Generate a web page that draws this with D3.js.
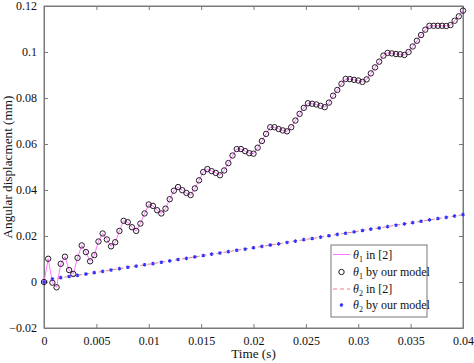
<!DOCTYPE html>
<html>
<head>
<meta charset="utf-8">
<script src="https://cdn.jsdelivr.net/npm/d3@7"></script>
<style>
	body { margin: 0; background: #fff; }
	svg { display: block; font-family: "Liberation Serif", "Times New Roman", serif; }
	.axis path, .axis line { stroke: #7a7a7a; }
	.axis text { fill: #111; font-size: 12px; font-family: "Liberation Serif", serif; }
	.axistitle { font-size: 13.2px; fill: #111; }
	.legtext { font-size: 12px; fill: #111; }
</style>
</head>
<body>
<svg class="chartArea"></svg>
<script>
// time step of the model output (s)
var dtModel = 0.0004;

// theta1, every 0.0004 s from 0 to 0.04
var theta1 = [
	0, 0.0101, -0.0003, -0.0023, 0.0079, 0.011, 0.0052, 0.0035, 0.0105, 0.0159,
	0.013, 0.009, 0.0117, 0.0176, 0.0211, 0.0185, 0.0155, 0.0173, 0.0222, 0.0266,
	0.026, 0.0238, 0.0222, 0.0254, 0.0298, 0.0337, 0.0331, 0.0312, 0.0298, 0.0319,
	0.036, 0.0397, 0.0413, 0.0399, 0.0387, 0.0378, 0.0407, 0.0442, 0.0478, 0.0491,
	0.0482, 0.0474, 0.0464, 0.0485, 0.0517, 0.055, 0.0578, 0.0578, 0.0569, 0.056,
	0.0558, 0.0584, 0.0613, 0.0644, 0.0673, 0.0673, 0.0665, 0.0659, 0.0655, 0.0673,
	0.0702, 0.0731, 0.0757, 0.0777, 0.0775, 0.0772, 0.0766, 0.076, 0.078, 0.081,
	0.0835, 0.0862, 0.0883, 0.0882, 0.0879, 0.0876, 0.087, 0.0881, 0.0907, 0.0933,
	0.0958, 0.0984, 0.0996, 0.0994, 0.0991, 0.099, 0.0987, 0.1, 0.1024, 0.1049,
	0.1074, 0.1097, 0.1114, 0.1114, 0.1114, 0.1114, 0.1113, 0.1117, 0.1136, 0.1155,
	0.118
];

// theta2, every 0.0008 s from 0 to 0.04
var dtTheta2 = 0.0008;
var theta2 = [
	0, 0.0013, 0.0019, 0.0024, 0.0029, 0.0035, 0.0041, 0.0046, 0.0052, 0.0058,
	0.0064, 0.0069, 0.0075, 0.008, 0.0086, 0.0092, 0.0098, 0.0103, 0.0109, 0.0115,
	0.0121, 0.0126, 0.0132, 0.0138, 0.0143, 0.0149, 0.0155, 0.0161, 0.0166, 0.0172,
	0.0178, 0.0184, 0.0189, 0.0195, 0.0201, 0.0207, 0.0212, 0.0218, 0.0224, 0.023,
	0.0235, 0.0241, 0.0247, 0.0253, 0.0258, 0.0264, 0.027, 0.0276, 0.0281, 0.0287,
	0.0293
];

var xTicks = [0, 0.005, 0.01, 0.015, 0.02, 0.025, 0.03, 0.035, 0.04];
var yTicks = [-0.02, 0, 0.02, 0.04, 0.06, 0.08, 0.1, 0.12];

var legendNames = ["in [2]", "by our model", "in [2]", "by our model"];
var legendSubs = ["1", "1", "2", "2"];

draw_angular("chartArea");

function draw_angular(areaID) {

	var data1 = theta1.map(function(v, i) { return {date: i * dtModel, value: v}; });
	var data2 = theta2.map(function(v, i) { return {date: i * dtTheta2, value: v}; });

	var margin = {top: 6, right: 11, bottom: 35, left: 44},
		width = 474 - margin.left - margin.right,
		height = 363 - margin.top - margin.bottom;

	var x = d3.scaleLinear()
		.domain([0, 0.04])
		.range([0, width]);

	var y = d3.scaleLinear()
		.domain([-0.02, 0.12])
		.range([height, 0]);

	var fmt = function(d) { return d3.format("~g")(d); };

	var chart = d3.select("." + areaID)
		.attr("width", width + margin.left + margin.right)
		.attr("height", height + margin.top + margin.bottom)
	  .append("g")
		.attr("transform", "translate(" + margin.left + "," + margin.top + ")");

	// White plot background and box
	chart.append("rect")
		.attr("width", width)
		.attr("height", height)
		.attr("fill", "#fff")
		.attr("stroke", "#7a7a7a");

	// Add the x axis (bottom + top ticks)
	chart.append("g")
		.attr("class", "x axis")
		.attr("transform", "translate(0," + height + ")")
		.call(d3.axisBottom(x).tickValues(xTicks).tickSizeInner(-4).tickSizeOuter(0).tickPadding(8).tickFormat(fmt));
	chart.append("g")
		.attr("class", "axis")
		.call(d3.axisTop(x).tickValues(xTicks).tickSizeInner(-4).tickSizeOuter(0).tickFormat(""));

	// Add the y axis (left + right ticks)
	chart.append("g")
		.attr("class", "y axis")
		.call(d3.axisLeft(y).tickValues(yTicks).tickSizeInner(-4).tickSizeOuter(0).tickPadding(7).tickFormat(fmt));
	chart.append("g")
		.attr("class", "axis")
		.attr("transform", "translate(" + width + ",0)")
		.call(d3.axisRight(y).tickValues(yTicks).tickSizeInner(-4).tickSizeOuter(0).tickFormat(""));

	// Axis titles
	chart.append("text")
		.attr("class", "axistitle")
		.attr("x", width / 2)
		.attr("y", height + 30)
		.attr("text-anchor", "middle")
		.text("Time (s)");
	chart.append("text")
		.attr("class", "axistitle")
		.attr("transform", "rotate(-90)")
		.attr("x", 0 - (height / 2))
		.attr("y", 0 - margin.left + 12)
		.attr("text-anchor", "middle")
		.text("Angular displacment (mm)");

	var valueline = d3.line()
		.x(function(d) { return x(d.date); })
		.y(function(d) { return y(d.value); });

	// theta1 in [2]
	chart.append("path")
		.datum(data1)
		.attr("fill", "none")
		.attr("stroke", "#ff66ff")
		.attr("stroke-width", 0.9)
		.attr("d", valueline);

	// theta2 in [2]
	chart.append("path")
		.datum(data2)
		.attr("fill", "none")
		.attr("stroke", "#e8707a")
		.attr("stroke-width", 0.9)
		.attr("stroke-dasharray", "4,3")
		.attr("d", valueline);

	// theta1 by our model
	chart.selectAll(".circ")
		.data(data1)
	  .enter().append("circle")
		.attr("class", "circ")
		.attr("cx", function(d) { return x(d.date); })
		.attr("cy", function(d) { return y(d.value); })
		.attr("r", 2.7)
		.attr("fill", "none")
		.attr("stroke", "#2a1a2a")
		.attr("stroke-width", 1);

	// theta2 by our model
	var star = d3.symbol().type(d3.symbolAsterisk).size(9);
	chart.selectAll(".star")
		.data(data2)
	  .enter().append("path")
		.attr("class", "star")
		.attr("transform", function(d) { return "translate(" + x(d.date) + "," + y(d.value) + ")"; })
		.attr("d", star)
		.attr("fill", "none")
		.attr("stroke", "#3030ff")
		.attr("stroke-width", 1.2);

	// Legend
	var lg = chart.append("g")
		.attr("transform", "translate(" + (331 - margin.left) + "," + (245 - margin.top) + ")");
	lg.append("rect")
		.attr("width", 96)
		.attr("height", 72)
		.attr("fill", "#fff")
		.attr("stroke", "#555")
		.attr("stroke-width", 0.8);

	var rows = [9.5, 27, 44, 60];
	rows.forEach(function(ry, i) {
		if (i == 0) {
			lg.append("line").attr("x1", 2).attr("x2", 19).attr("y1", ry).attr("y2", ry)
				.attr("stroke", "#ff66ff").attr("stroke-width", 0.9);
		} else if (i == 1) {
			lg.append("circle").attr("cx", 10.5).attr("cy", ry).attr("r", 2.7)
				.attr("fill", "none").attr("stroke", "#2a1a2a");
		} else if (i == 2) {
			lg.append("line").attr("x1", 2).attr("x2", 19).attr("y1", ry).attr("y2", ry)
				.attr("stroke", "#e8707a").attr("stroke-width", 0.9).attr("stroke-dasharray", "4,3");
		} else {
			lg.append("path").attr("transform", "translate(10.5," + ry + ")").attr("d", star)
				.attr("fill", "none").attr("stroke", "#3030ff").attr("stroke-width", 1.2);
		}
		var t = lg.append("text")
			.attr("class", "legtext")
			.attr("x", 22)
			.attr("y", ry + 4);
		t.append("tspan").attr("font-style", "italic").text("\u03b8");
		t.append("tspan").attr("font-size", "8px").attr("dy", 3).text(legendSubs[i]);
		t.append("tspan").attr("dy", -3).text(" " + legendNames[i]);
	});
};
</script>
</body>
</html>
